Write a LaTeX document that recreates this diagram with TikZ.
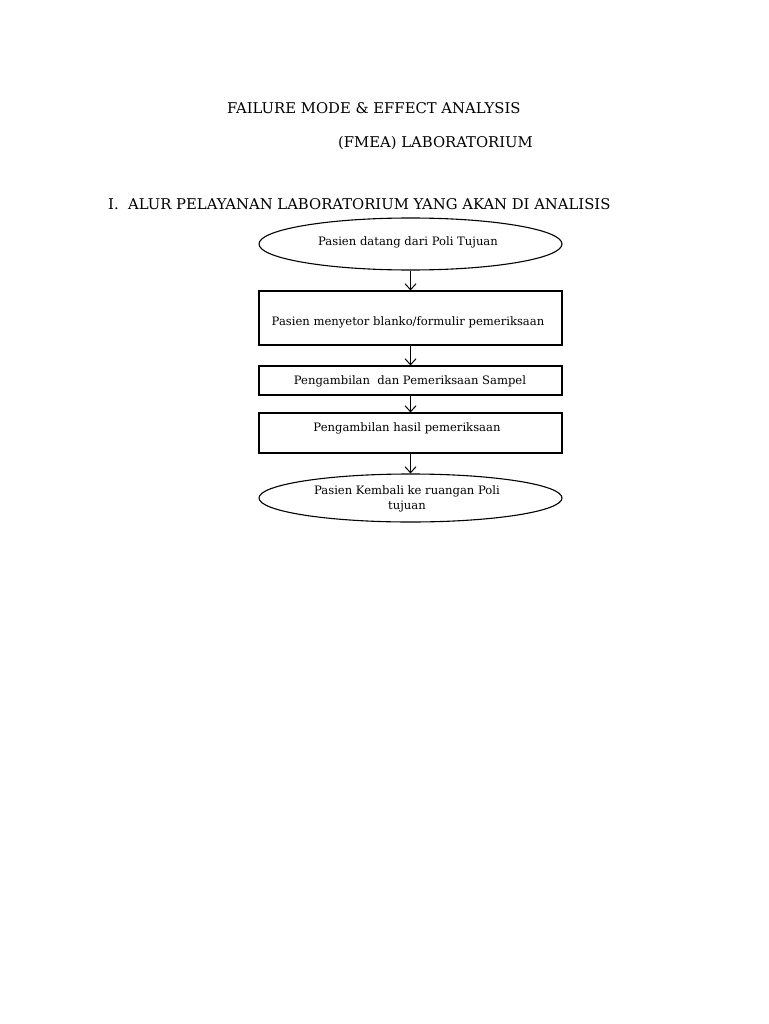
\documentclass[tikz,border=0pt]{standalone}
\usepackage{fontspec}
\setmainfont{DejaVu Serif}
\usetikzlibrary{shapes.geometric,arrows.meta}
\begin{document}
\begin{tikzpicture}[x=1pt,y=-1pt,
  shp/.style={draw,line width=1.1pt,inner sep=0pt},
  boxs/.style={shp,rectangle,minimum width=303pt},
  ell/.style={shp,ellipse,minimum width=303pt},
  lbl/.style={font=\fontsize{11.6}{15}\selectfont,align=center,inner sep=0pt},
  ttl/.style={font=\fontsize{14.8}{17}\selectfont,inner sep=0pt,anchor=base west},
  arr/.style={-{Straight Barb[length=6pt,width=11pt]},line width=1pt}]
\useasboundingbox (0,0) rectangle (768,1024);
\fill[white] (0,0) rectangle (768,1024);
% titles
\node[ttl] (t1) at (227,113.5) {FAILURE MODE \& EFFECT ANALYSIS};
\node[ttl] (t2) at (338,147.5) {(FMEA) LABORATORIUM};
\node[ttl] (t3) at (108,209.5) {I.\ \ ALUR PELAYANAN LABORATORIUM YANG AKAN DI ANALISIS};
% shapes
\node[ell,minimum height=52pt] (e1) at (410.5,244) {};
\node[boxs,minimum height=54pt] (b2) at (410.5,318) {};
\node[boxs,minimum height=29pt] (b3) at (410.5,380.5) {};
\node[boxs,minimum height=40pt] (b4) at (410.5,433) {};
\node[ell,minimum height=48pt] (e5) at (410.5,498) {};
% texts
\node[lbl] (x1) at (408,242) {Pasien datang dari Poli Tujuan};
\node[lbl] (x2) at (408,322) {Pasien menyetor blanko/formulir pemeriksaan};
\node[lbl] (x3) at (410,381) {Pengambilan\ \ dan Pemeriksaan Sampel};
\node[lbl] (x4) at (407,428) {Pengambilan hasil pemeriksaan};
\node[lbl] (x5) at (407,499) {Pasien Kembali ke ruangan Poli\\tujuan};
% arrows
\draw[arr] (e1.south) -- (b2.north);
\draw[arr] (b2.south) -- (b3.north);
\draw[arr] (b3.south) -- (b4.north);
\draw[arr] (b4.south) -- (e5.north);
\end{tikzpicture}
\end{document}
